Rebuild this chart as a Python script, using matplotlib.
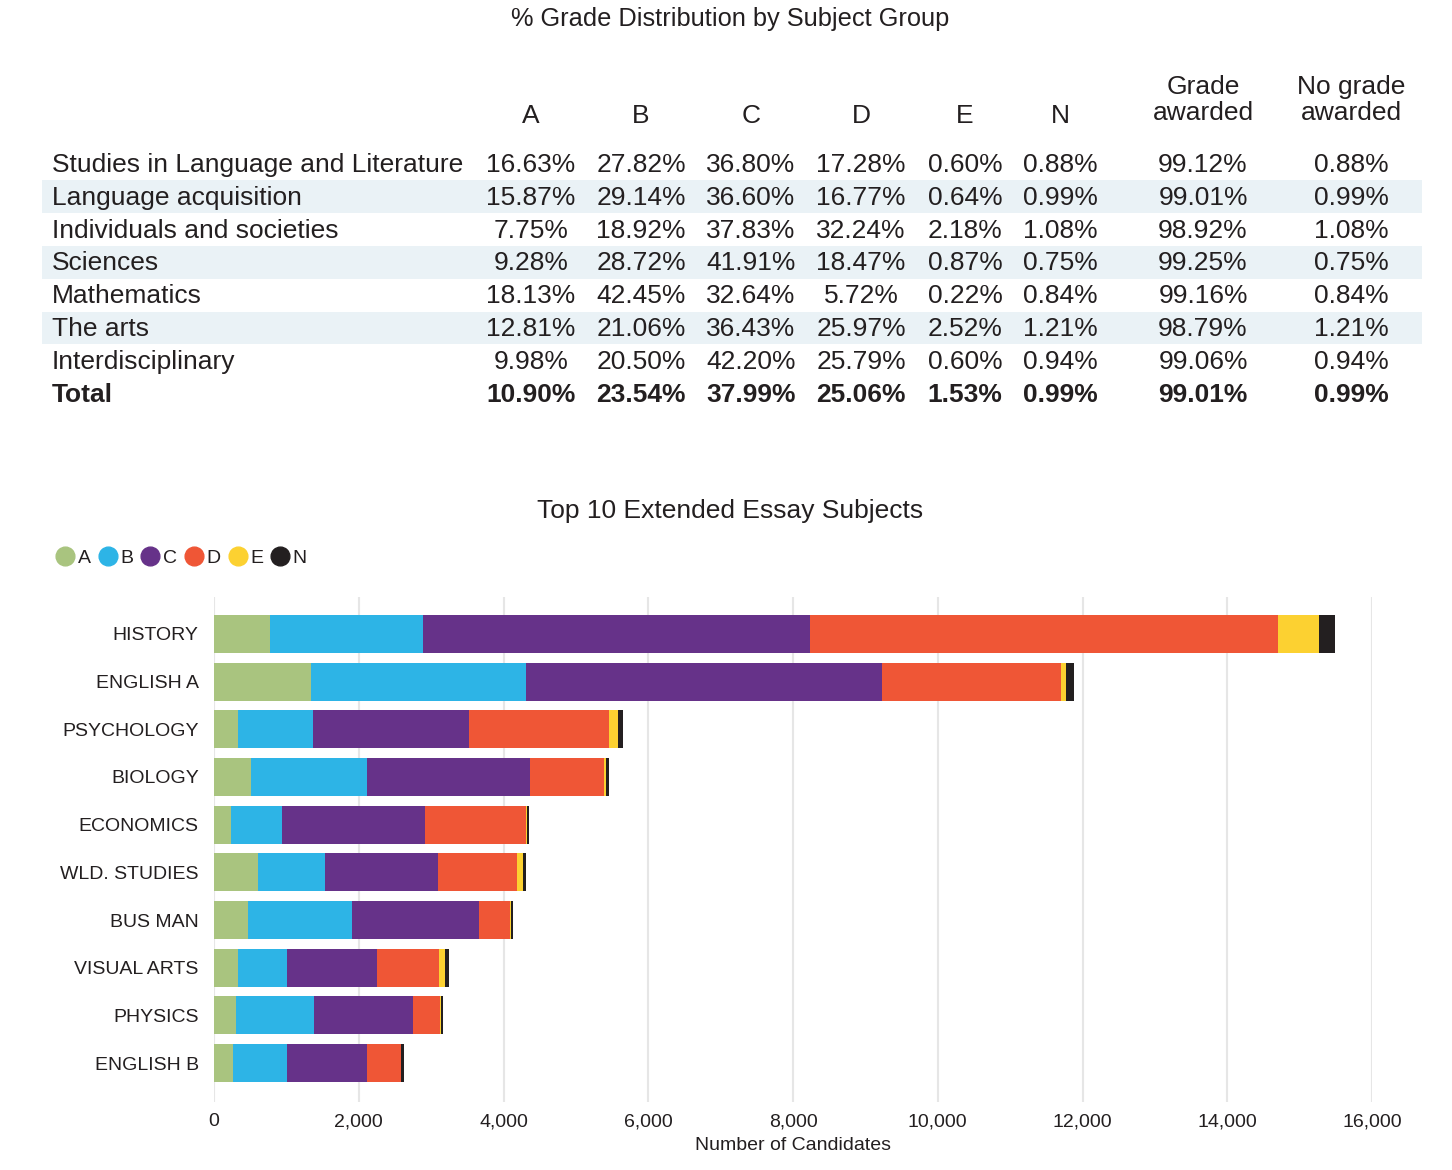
import numpy as np
import matplotlib.pyplot as plt
from matplotlib.lines import Line2D

plt.rcParams['font.family'] = ['Liberation Sans', 'DejaVu Sans']

# table data
groups = ['Studies in Language and Literature', 'Language acquisition',
          'Individuals and societies', 'Sciences', 'Mathematics',
          'The arts', 'Interdisciplinary', 'Total']
grade_cols = ['A', 'B', 'C', 'D', 'E', 'N']
pct_A = [16.63, 15.87, 7.75, 9.28, 18.13, 12.81, 9.98, 10.90]
pct_B = [27.82, 29.14, 18.92, 28.72, 42.45, 21.06, 20.50, 23.54]
pct_C = [36.80, 36.60, 37.83, 41.91, 32.64, 36.43, 42.20, 37.99]
pct_D = [17.28, 16.77, 32.24, 18.47, 5.72, 25.97, 25.79, 25.06]
pct_E = [0.60, 0.64, 2.18, 0.87, 0.22, 2.52, 0.60, 1.53]
pct_N = [0.88, 0.99, 1.08, 0.75, 0.84, 1.21, 0.94, 0.99]
awarded = [99.12, 99.01, 98.92, 99.25, 99.16, 98.79, 99.06, 99.01]
not_awarded = [0.88, 0.99, 1.08, 0.75, 0.84, 1.21, 0.94, 0.99]

# bar chart data (number of candidates, estimated)
subjects = ['HISTORY', 'ENGLISH A', 'PSYCHOLOGY', 'BIOLOGY', 'ECONOMICS',
            'WLD. STUDIES', 'BUS MAN', 'VISUAL ARTS', 'PHYSICS', 'ENGLISH B']
n_A = [779, 1347, 327, 516, 241, 602, 464, 327, 309, 258]
n_B = [2115, 2957, 1037, 1604, 705, 928, 1439, 687, 1066, 756]
n_C = [5342, 4922, 2155, 2241, 1965, 1559, 1753, 1233, 1370, 1106]
n_D = [6461, 2471, 1937, 1026, 1393, 1095, 430, 859, 378, 459]
n_E = [568, 69, 120, 23, 23, 80, 12, 92, 12, 8]
n_N = [222, 123, 69, 46, 29, 40, 28, 46, 23, 32]

colors = ['#A9C47F', '#2DB4E6', '#663289', '#EF5636', '#FCD131', '#231F20']

W, H = 1452, 1170
fig = plt.figure(figsize=(W / 100, H / 100), dpi=100)

# ---- table, drawn on a pixel-coordinate axes
tab = fig.add_axes([0, 0, 1, 1])
tab.set_xlim(0, W)
tab.set_ylim(H, 0)
tab.axis('off')

txt_color = '#231F20'
fs = 19
tab.text(730, 19, '% Grade Distribution by Subject Group', ha='center', va='center',
         fontsize=18.3, color=txt_color)

col_x = [531, 641, 751, 861, 965, 1060]
for cx, g in zip(col_x, grade_cols):
    tab.text(cx, 116, g, ha='center', va='center', fontsize=fs, color=txt_color)
tab.text(1203, 100, 'Grade\nawarded', ha='center', va='center', fontsize=fs,
         color=txt_color, linespacing=1.1)
tab.text(1351, 100, 'No grade\nawarded', ha='center', va='center', fontsize=fs,
         color=txt_color, linespacing=1.1)

cols = [pct_A, pct_B, pct_C, pct_D, pct_E, pct_N]
row_h = 32.8
y0 = 165
for i, name in enumerate(groups):
    y = y0 + i * row_h
    if i % 2 == 1 and i < 7:
        tab.add_patch(plt.Rectangle((42, y - row_h / 2 - 1), 1380, row_h,
                                    color='#EAF2F6', zorder=0, lw=0))
    weight = 'bold' if name == 'Total' else 'normal'
    tab.text(52, y, name, ha='left', va='center', fontsize=fs,
             color=txt_color, weight=weight)
    for cx, vals in zip(col_x, cols):
        tab.text(cx, y, f'{vals[i]:.2f}%', ha='center', va='center', fontsize=fs,
                 color=txt_color, weight=weight)
    tab.text(1203, y, f'{awarded[i]:.2f}%', ha='center', va='center', fontsize=fs,
             color=txt_color, weight=weight)
    tab.text(1351, y, f'{not_awarded[i]:.2f}%', ha='center', va='center', fontsize=fs,
             color=txt_color, weight=weight)

tab.text(730, 511, 'Top 10 Extended Essay Subjects', ha='center', va='center',
         fontsize=19, color=txt_color)

# ---- stacked bars
ax = fig.add_axes([214 / W, (H - 1102) / H, (1372 - 214) / W, (1102 - 597) / H])
ypos = np.arange(len(subjects))
left = np.zeros(len(subjects))
for vals, c, g in zip([n_A, n_B, n_C, n_D, n_E, n_N], colors, grade_cols):
    ax.barh(ypos, vals, left=left, height=0.8, color=c, label=g, zorder=3)
    left += np.array(vals)

ax.set_xlim(0, 16000)
ax.set_ylim(9.818, -0.776)
ax.set_xticks(np.arange(0, 16001, 2000))
ax.set_xticklabels([f'{v:,}' for v in range(0, 16001, 2000)])
ax.set_yticks(ypos)
ax.set_yticklabels(subjects)
ax.grid(axis='x', color='#E6E6E6', lw=1.5, zorder=0)
for s in ax.spines.values():
    s.set_visible(False)
ax.tick_params(axis='both', length=0, labelsize=14, colors=txt_color)
ax.tick_params(axis='y', pad=11)
ax.tick_params(axis='x', pad=8)
ax.set_xlabel('Number of Candidates', fontsize=14, color=txt_color, labelpad=5)

handles = [Line2D([], [], marker='o', ls='', color=c, markersize=13.5) for c in colors]
fig.legend(handles, grade_cols, loc='center left', bbox_to_anchor=(55 / W, 1 - 558 / H),
           ncol=6, frameon=False, fontsize=14, handlelength=1.05, handletextpad=0.12,
           columnspacing=0.35, borderaxespad=0, borderpad=0, labelcolor=txt_color)

fig.savefig('out.png', dpi=100)
